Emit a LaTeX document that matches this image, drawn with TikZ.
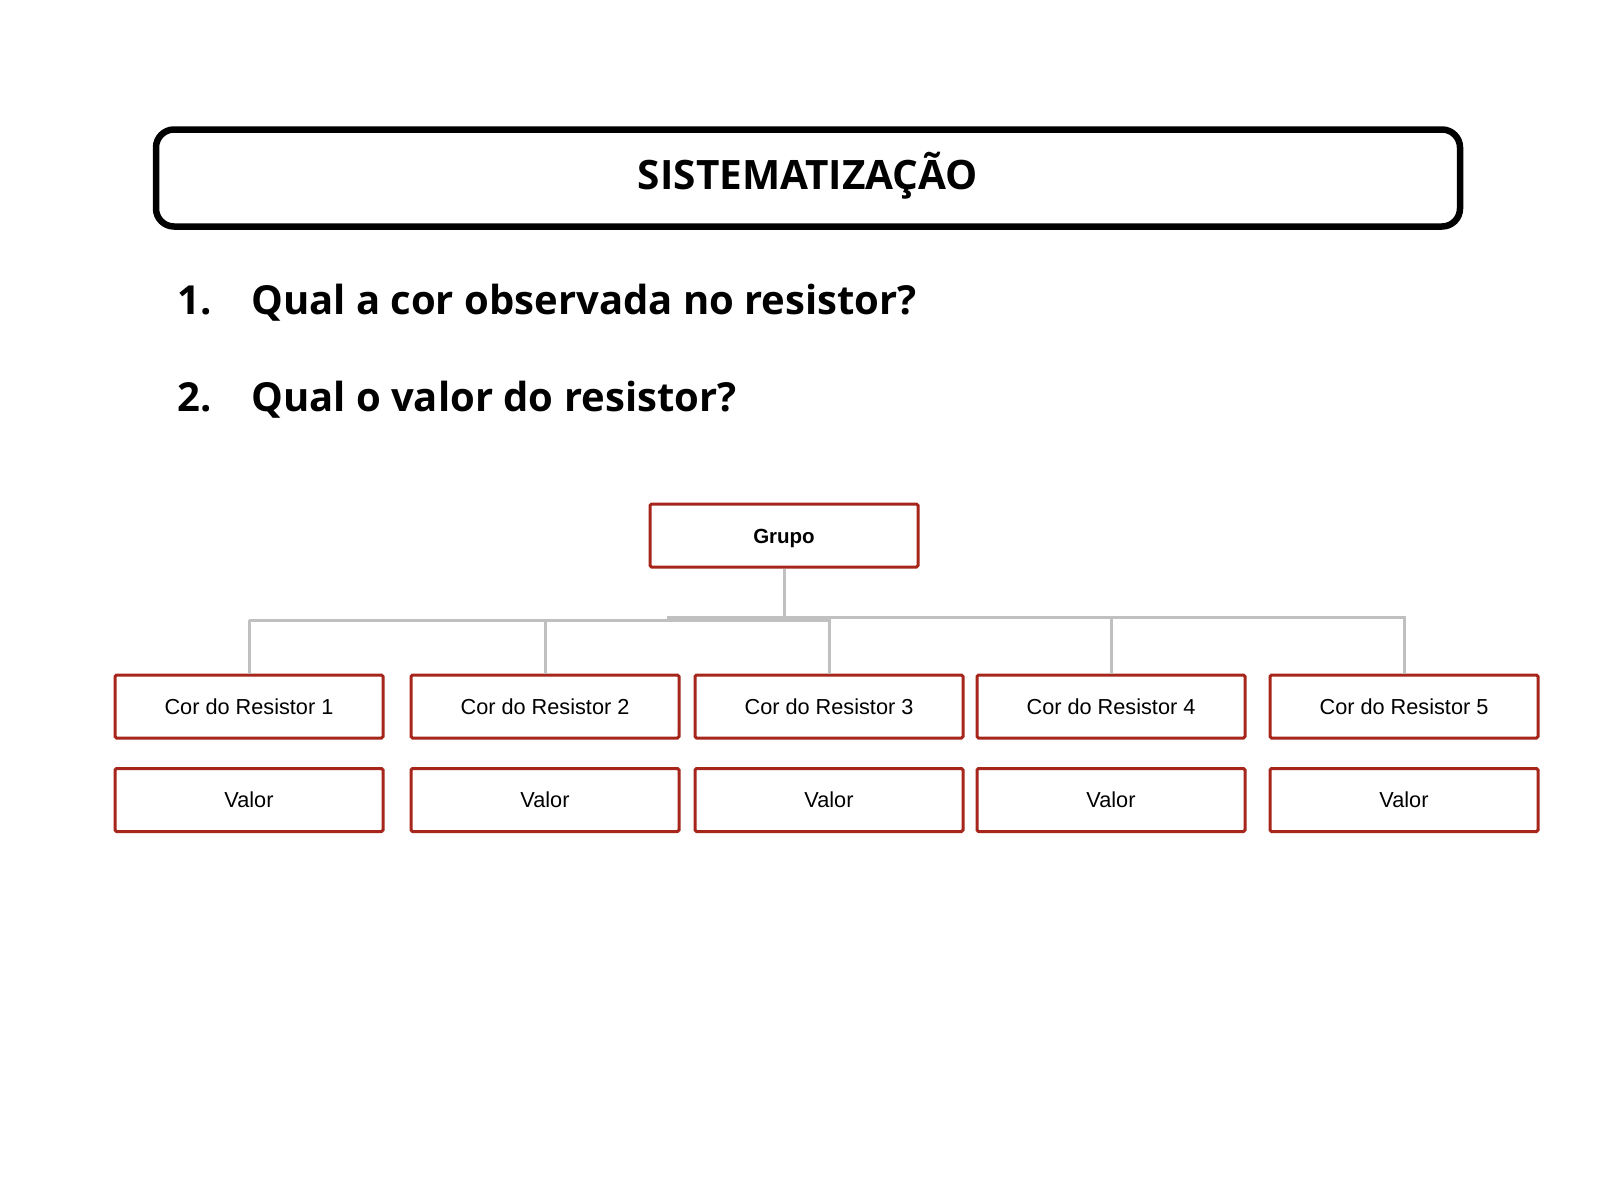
\documentclass[tikz,border=0pt]{standalone}
\usepackage{fontspec}
\setmainfont{Liberation Sans}
\newfontfamily\opensans{Open Sans}
\definecolor{boxred}{RGB}{166,38,28}
\definecolor{linegray}{RGB}{192,192,192}
\begin{document}
\begin{tikzpicture}[x=1pt,y=-1pt,
  titlebox/.style={draw=black, line width=6.5pt, rounded corners=18pt,
    minimum width=1304pt, minimum height=97pt, inner sep=0pt,
    font=\opensans\bfseries\fontsize{40.5}{44}\selectfont,
    text height=30pt, text depth=8pt},
  question/.style={anchor=base west, inner sep=0pt,
    font=\opensans\bfseries\fontsize{40}{46}\selectfont},
  redbox/.style={draw=boxred, line width=3pt, rounded corners=1.5pt,
    minimum width=268pt, minimum height=63pt, inner sep=0pt,
    font=\fontsize{21.7}{24}\selectfont, text height=15.5pt, text depth=0pt},
  conn/.style={draw=linegray, line width=3pt}]
\useasboundingbox (0,0) rectangle (1600,1200);
\fill[white] (0,0) rectangle (1600,1200);

\node[titlebox] (title) at (808,178) {SISTEMATIZAÇÃO};

\node[question] (q1) at (177,314) {\makebox[74pt][l]{1.}Qual a cor observada no resistor?};
\node[question] (q2) at (177,411) {\makebox[74pt][l]{2.}Qual o valor do resistor?};

\node[redbox, font=\bfseries\fontsize{20.5}{24}\selectfont] (g) at (784,535.5) {Grupo};

\foreach \i/\x in {1/249, 2/545, 3/829, 4/1111, 5/1404} {
  \node[redbox] (c\i) at (\x,706.5) {Cor do Resistor \i};
  \node[redbox] (v\i) at (\x,800) {Valor};
}

\coordinate (jl) at (249,620);
\coordinate (jr) at (667,617);
\draw[conn] (g.south) -- (g.south |- jr);
\draw[conn] (jl) -| (c1.north);
\draw[conn] (jl) -- (jl -| c3.north);
\draw[conn] (jl -| c2.north) -- (c2.north);
\draw[conn] (jr) -| (c5.north);
\draw[conn] (jr -| c3.north) -- (c3.north);
\draw[conn] (jr -| c4.north) -- (c4.north);
\end{tikzpicture}
\end{document}
